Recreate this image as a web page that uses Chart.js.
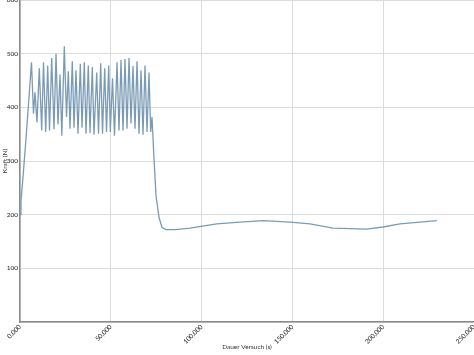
<!DOCTYPE html>
<html>
<head>
<meta charset="utf-8">
<script src="https://cdn.jsdelivr.net/npm/chart.js@4/dist/chart.umd.min.js"></script>
<style>
  html, body { margin: 0; padding: 0; background: #fff; }
  #wrap { width: 474px; height: 355px; position: relative; }
</style>
</head>
<body>
<div id="wrap"><canvas id="chart"></canvas></div>
<script>
// Dauer Versuch (s)
const timeS = [
  0, 550, 1650, 3300, 6330, 7430, 8260, 9360, 10630, 11950, 12940, 14150, 15250, 16250,
  17460, 18720, 19830, 20930, 22030, 23020, 24400, 25610, 26600, 27540, 28800, 29740,
  30840, 31940, 33210, 34140, 35410, 36350, 37610, 38550, 39820, 40750, 42240, 43230,
  44440, 45430, 46640, 47640, 48850, 49730, 50940, 52040, 53420, 54520, 55620, 56720,
  57820, 58930, 60030, 61130, 62230, 63330, 64430, 65530, 66640, 67740, 68840, 69940,
  71040, 71980, 72690, 73790, 74900, 76550, 78200, 80400, 85360, 93620, 108320, 121150,
  133990, 148690, 159700, 172370, 190930, 199900, 209270, 229470
];
// Kraft (N)
const forceN = [
  200, 225, 270, 341, 484, 388, 428, 372, 473, 357, 484, 354, 478, 357,
  492, 359, 500, 368, 461, 347, 514, 382, 467, 360, 486, 362,
  469, 351, 481, 362, 484, 351, 478, 352, 475, 349, 465, 351,
  482, 351, 473, 354, 478, 354, 454, 347, 484, 357, 488, 357,
  490, 360, 492, 370, 477, 360, 486, 351, 469, 349, 478, 354,
  465, 354, 382, 304, 235, 195, 176, 172, 172, 175, 183, 186,
  189, 186, 183, 175, 173, 177, 183, 189
];
const xTicks = [0, 50000, 100000, 150000, 200000, 250000];
const xTickLabels = ['0,000', '50,000', '100,000', '150,000', '200,000', '250,000'];
const yTicks = [0, 100, 200, 300, 400, 500, 600];

const points = timeS.map((t, i) => ({ x: t, y: forceN[i] }));
const tickFont = { family: 'Lato, "Open Sans", sans-serif', size: 6.5 };
const titleFont = { family: 'Lato, "Open Sans", sans-serif', size: 6.5 };

new Chart(document.getElementById('chart'), {
  type: 'line',
  data: {
    datasets: [{
      data: points,
      borderColor: '#7b9bb5',
      borderWidth: 1.3,
      pointRadius: 0,
      tension: 0,
      fill: false
    }]
  },
  options: {
    responsive: true,
    maintainAspectRatio: false,
    animation: false,
    layout: { padding: 0 },
    plugins: { legend: { display: false }, tooltip: { enabled: false } },
    scales: {
      x: {
        type: 'linear',
        min: 0,
        max: 250000,
        afterBuildTicks: s => { s.ticks = xTicks.map(v => ({ value: v })); },
        afterFit: s => { s.paddingLeft = 0; s.paddingRight = 0; s.height = 33; },
        grid: { color: '#dcdcdc', drawTicks: false },
        border: { color: '#8a8a8a', width: 1.5 },
        ticks: {
          font: tickFont,
          color: '#222',
          minRotation: 45,
          maxRotation: 45,
          padding: 1,
          callback: (v) => xTickLabels[xTicks.indexOf(v)]
        },
        title: { display: true, text: 'Dauer Versuch (s)', font: titleFont, color: '#333', padding: { top: 0, bottom: 4 } }
      },
      y: {
        min: 0,
        max: 600,
        afterBuildTicks: s => { s.ticks = yTicks.map(v => ({ value: v })); },
        afterFit: s => { s.paddingTop = 0; s.paddingBottom = 0; s.width = 20; },
        grid: { color: '#dcdcdc', drawTicks: false },
        border: { color: '#8a8a8a', width: 1.5 },
        ticks: {
          font: tickFont,
          color: '#222',
          padding: 2,
          callback: (v) => v === 0 ? '' : String(v)
        },
        title: { display: true, text: 'Kraft (N)', font: titleFont, color: '#333', padding: { top: 1, bottom: 0 } }
      }
    }
  }
});
</script>
</body>
</html>
